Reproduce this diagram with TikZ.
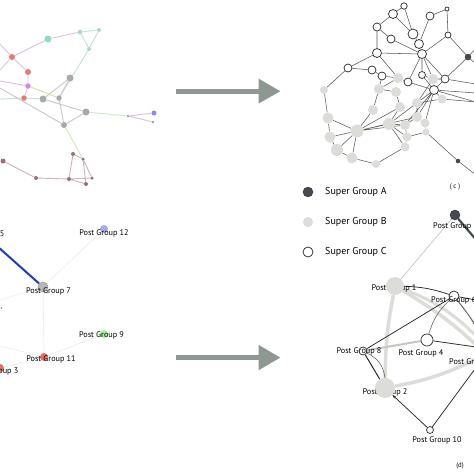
\documentclass[tikz,border=0pt]{standalone}
\usepackage{fontspec}
\setmainfont{PT Sans}
\usetikzlibrary{arrows.meta}

\definecolor{arrowgray}{HTML}{8E9893}
\definecolor{sgA}{HTML}{454A50}
\definecolor{sgB}{HTML}{DCDCD8}
\definecolor{sgC}{HTML}{333333}
\definecolor{tealA}{HTML}{8EDCC2}
\definecolor{tealB}{HTML}{A6D9CB}
\definecolor{redA}{HTML}{E37C72}
\definecolor{magA}{HTML}{D38BE0}
\definecolor{grayA}{HTML}{A9A9A9}
\definecolor{purA}{HTML}{8C8CE6}
\definecolor{purB}{HTML}{8A8AB0}
\definecolor{brnA}{HTML}{977079}
\definecolor{ePink}{HTML}{E2C3DE}
\definecolor{eTeal}{HTML}{BFE3D9}
\definecolor{eGreen}{HTML}{CDEBBE}
\definecolor{eGray}{HTML}{C9C6CC}
\definecolor{eYel}{HTML}{D6DFA2}
\definecolor{ePur}{HTML}{D9BFE6}
\definecolor{eBrn}{HTML}{CDB3BA}
\definecolor{blueB}{HTML}{1F3DB5}

\pgfdeclarelayer{back}
\pgfdeclarelayer{mid}
\pgfsetlayers{back,mid,main}

\begin{document}
\begin{tikzpicture}[x=1pt,y=-1pt,
	vtx/.style={circle,inner sep=0pt,minimum size=#1pt},
	blob/.style 2 args={vtx=#1,fill=#2},
	sga/.style={vtx=#1,fill=sgA,draw=sgA!70!black,line width=0.4pt},
	sgb/.style={vtx=#1,fill=sgB},
	sgc/.style={vtx=#1,fill=white,draw=sgC,line width=0.75pt},
	sgo/.style={vtx=#1,draw=sgC,line width=0.75pt},
	cedge/.style={draw=black!65,line width=0.55pt},
	aedge/.style={draw=#1,line width=0.9pt},
	thickb/.style={draw=sgB,line width=3.5pt},
	dk/.style={draw=black!85,line width=0.75pt},
	dkg/.style={draw=black!60,line width=0.6pt},
	faint/.style={draw=black!6,line width=0.8pt},
	lbl/.style={font=\fontsize{8.2}{9}\selectfont,inner sep=0pt},
	leg/.style={font=\fontsize{10}{11}\selectfont,inner sep=0pt,anchor=west}]
		\useasboundingbox (0,0) rectangle (474,474);
		\begin{pgfonlayer}{back}
		\fill[white] (0,0) rectangle (474,474);
		\end{pgfonlayer}
		\clip (0,0) rectangle (474,474);

		\node[blob={7}{tealA}] (a1) at (48,39) {};
		\node[blob={4.5}{tealB}] (a2) at (80,32) {};
		\node[blob={4}{tealB}] (a3) at (99,30) {};
		\node[blob={4}{tealB}] (a4) at (89,49) {};
		\node[blob={6}{redA}] (r1) at (12,57) {};
		\node[blob={6}{redA}] (r2) at (28,72) {};
		\node[blob={5.5}{magA}] (m1) at (28,86) {};
		\node[blob={5.5}{redA}] (r3) at (24,98) {};
		\node[blob={7}{grayA}] (k1) at (70,78) {};
		\node[blob={7}{grayA}] (k2) at (43,99) {};
		\node[blob={5.5}{grayA}] (k3) at (59,98) {};
		\node[blob={7}{grayA}] (k4) at (86,112) {};
		\node[blob={6}{grayA}] (k5) at (64,125) {};
		\node[blob={2.5}{purA}] (p1) at (128,116) {};
		\node[blob={5}{purA}] (p2) at (154,113) {};
		\node[blob={2.5}{purB}] (p3) at (153,122) {};
		\node[blob={5}{brnA}] (b1) at (3,161) {};
		\node[blob={4}{brnA}] (b2) at (36,178) {};
		\node[blob={4}{brnA}] (b3) at (69,179) {};
		\node[blob={4}{brnA}] (b4) at (73,154) {};
		\node[blob={3.5}{brnA}] (b5) at (83,159) {};
		\node[blob={3.5}{brnA}] (b6) at (92,178) {};
		\node[blob={4}{brnA}] (b7) at (86,184) {};
		\coordinate (aL1) at (0,44);
		\coordinate (aL2) at (0,70);
		\coordinate (aL3) at (0,81);
		\coordinate (aL4) at (0,88);
		\coordinate (aL5) at (0,99);

		\begin{pgfonlayer}{back}
		\clip (0,0) rectangle (474,474);
		\draw[aedge=ePink] (r1) -- (a1) (a1) -- (a2) (r1) -- (aL1) (r1) -- (aL2) (r1) -- (r2) (r2) -- (m1) (m1) -- (r3);
		\draw[aedge=eTeal] (a2) -- (a3) (a2) -- (a4) (a3) -- (a4) (a4) -- (k3) (aL5) -- (r3) (r3) -- (k2);
		\draw[aedge=eGray] (k1) -- (k2) (k1) -- (k3) (k2) -- (k4) (k3) -- (k5) (k5) -- (k4) (aL4) -- (k5);
		\draw[aedge=eYel] (m1) -- (k3);
		\draw[aedge=ePur] (aL3) -- (m1) (p1) -- (p2) (p1) -- (p3);
		\draw[aedge=eGreen] (k4) -- (p1) (k5) -- (b5);
		\draw[aedge=eBrn] (b1) -- (b2) (b2) -- (b3) (b3) -- (b4) (b4) -- (b5) (b5) -- (b6) (b5) -- (b7) (b3) -- (b6) (b3) -- (b7);
		\end{pgfonlayer}

		\fill[arrowgray] (176,89) rectangle (259,93.5);
		\fill[arrowgray] (258.7,78.7) -- (280.3,91.2) -- (258.7,103.5) -- cycle;
		\fill[arrowgray] (176,355.3) rectangle (259,360);
		\fill[arrowgray] (258.7,345) -- (280.3,357.6) -- (258.7,370.2) -- cycle;

		\node[sgb=8] (g1) at (324,90) {};
		\node[sgb=10] (g2) at (398,78) {};
		\node[sgb=10] (g3) at (433,79) {};
		\node[sgb=10] (g4) at (379,89) {};
		\node[sgb=10] (g5) at (396,92) {};
		\node[sgb=9] (g6) at (442,99) {};
		\node[sgb=10] (g7) at (373,110) {};
		\node[sgb=10] (g8) at (400,107) {};
		\node[sgb=10] (g9) at (417,103) {};
		\node[sgb=11] (g10) at (328,118) {};
		\node[sgb=10] (g12) at (417,117) {};
		\node[sgb=13] (g13) at (357,131) {};
		\node[sgb=12] (g14) at (389,124) {};
		\node[sgb=10] (g15) at (405,125) {};
		\node[sgb=9] (g16) at (425,123) {};
		\node[sgb=11] (g17) at (330,137) {};
		\node[sgb=9] (g18) at (407,137) {};
		\node[sgb=7] (g19) at (426,132) {};
		\node[sgb=12] (g20) at (337,150) {};
		\node[sgb=9] (g21) at (405,147) {};
		\node[sgb=11] (g22) at (352,158) {};
		\node[sgb=8] (g23) at (376,164) {};
		\node[sga=4] (d2) at (458,161) {};
		\node[sgc=6.5] (o1) at (404,6) {};
		\node[sgc=9] (o2) at (393,14) {};
		\node[sgc=8] (o3) at (377,27) {};
		\node[sgc=8] (o4) at (430,16) {};
		\node[sgc=4] (o5) at (447,9) {};
		\node[sgc=10] (o6) at (413,34) {};
		\node[sgc=8] (o7) at (391,39) {};
		\node[sgc=9] (o8) at (419,44) {};
		\node[sgc=6] (o9) at (448,35) {};
		\node[sgc=9] (o10) at (377,53) {};
		\node[sgc=9] (o11) at (422,54) {};
		\node[sga=6] (d1) at (468,57) {};
		\node[sgc=8] (o12) at (348,68) {};
		\node[sgc=8] (o13) at (372,70) {};
		\node[sgc=8] (o14) at (382,76) {};
		\node[sgc=7] (o15) at (422,75) {};
		\node[sgc=8] (o16) at (408,82) {};
		\node[sgc=8] (o17) at (445,79) {};
		\node[sgc=9] (o18) at (434,90) {};
		\coordinate (cR1) at (476,48);
		\coordinate (cR2) at (476,64);
		\coordinate (cR3) at (476,84);
		\coordinate (cR4) at (476,93);
		\coordinate (cR5) at (476,102);
		\coordinate (cR6) at (476,175);

		\begin{pgfonlayer}{back}
		\clip (0,0) rectangle (474,474);
		\draw[cedge] (o1) -- (o2) (o1) -- (o6) (o2) -- (o3) (o2) -- (o6) (o3) -- (o7) (o3) -- (o10) (o7) -- (o11) (o6) -- (o8) (o4) -- (o8) (o4) -- (o5) (o5) -- (o9) (o9) -- (d1) (o8) -- (o11) (o9) -- (o11) (o10) -- (o11) (o10) -- (o12) (o12) -- (o13) (o13) -- (o14) (o12) -- (g1) (o11) -- (o15) (o11) -- (o16) (o11) -- (g3) (o11) -- (o17) (d1) -- (o17) (d1) -- (cR1) (d1) -- (cR2) (o15) -- (o18) (o16) -- (o18) (o17) -- (o18) (o17) -- (cR3) (o18) -- (cR4) (o18) -- (cR5) (o14) -- (g2) (o10) -- (g2);
		\draw[cedge] (g1) -- (g10) (g10) -- (g17) (g17) -- (g20) (g20) -- (g22) (g22) -- (g23) (g23) -- (g21) (g21) -- (g18) (g18) -- (g19) (g19) -- (d2) (d2) -- (cR6) (g13) -- (g10) (g13) -- (g17) (g13) -- (g20) (g13) -- (g22) (g13) -- (g7) (g13) -- (g14) (g13) -- (g8) (g13) -- (g15) (g13) -- (g12) (g7) -- (g4) (g4) -- (g2) (g4) -- (o14) (g2) -- (o16) (g5) -- (g4) (g5) -- (g8) (g8) -- (g14) (g14) -- (g15) (g15) -- (g12) (g12) -- (g9) (g9) -- (o18) (g9) -- (g3) (g12) -- (g16) (g16) -- (g19) (g16) -- (o18) (g15) -- (o18) (g14) -- (o18) (g18) -- (g15) (g6) -- (g9) (g6) -- (o18) (g3) -- (o17) (g3) -- (o15) (g12) -- (o18) (g18) -- (g14) (g6) -- (cR5) (g21) -- (g14);
		\end{pgfonlayer}

		\node[lbl,font=\fontsize{6.8}{8}\selectfont] (capc) at (455,187) {( c )};
		\node[sga=10] (legA) at (308,192) {};
		\node[sgb=10] (legB) at (308,222) {};
		\node[sgc=10] (legC) at (308,252) {};
		\node[leg] (legAt) at (325,192) {Super Group A};
		\node[leg] (legBt) at (325,222) {Super Group B};
		\node[leg] (legCt) at (325,252) {Super Group C};

		\node[blob={8}{grayA}] (pg5b) at (-12,238) {};
		\node[vtx=10,fill=black!28,draw=black!42,line width=0.5pt] (pg7b) at (43,287) {};
		\node[blob={8}{purA!75}] (pg12b) at (104,229) {};
		\node[blob={8}{eGreen!80!green}] (pg9b) at (104,334) {};
		\node[blob={8}{redA!90!red}] (pg11b) at (44,357) {};
		\node[blob={8}{redA!90!red}] (pg3b) at (0,368) {};
		\coordinate (bL1) at (0,300);
		\coordinate (bL2) at (0,346);
		\begin{pgfonlayer}{back}
		\clip (0,0) rectangle (474,474);
		\draw[faint] (pg7b) -- (pg12b) (pg7b) -- (pg11b) (pg11b) -- (pg9b) (pg7b) -- (bL1) (pg11b) -- (bL2) (pg3b) -- (pg11b);
		\draw[blueB,line width=2pt] (pg5b) -- (pg7b);
		\end{pgfonlayer}
		\fill[black!45] (1.5,308) circle (0.8);
		\node[lbl,anchor=east] (pg5bt) at (4.5,234) {Post Group 5};
		\node[lbl] (pg12bt) at (104,233) {Post Group 12};
		\node[lbl] (pg7bt) at (48.5,291) {Post Group 7};
		\node[lbl] (pg9bt) at (101.5,335) {Post Group 9};
		\node[lbl] (pg11bt) at (51,359) {Post Group 11};
		\node[lbl,anchor=east] (pg3bt) at (18.5,371) {Post Group 3};

		\node[sga=10] (pg5) at (455,215) {};
		\node[sgb=18] (pg1) at (395,286) {};
		\node[sgo=10] (pg6) at (454,296) {};
		\node[sgo=12] (pg4) at (427,340) {};
		\node[sgo=8] (pg8) at (363,351) {};
		\node[sgb=20] (pg2) at (385,388) {};
		\node[sgb=16] (pg3) at (486,354) {};
		\node[sgo=7] (pg10) at (430,430) {};
		\coordinate (dR0) at (478,242);
		\coordinate (dR1) at (476,300);
		\coordinate (dR2) at (476,325);
		\coordinate (dR3) at (476,347);
		\coordinate (dR4) at (478,338);
		\begin{pgfonlayer}{back}
		\clip (0,0) rectangle (474,474);
		\draw[thickb] (pg1) to[bend right=5] (pg2);
		\draw[thickb] (pg1) to[bend left=6] (pg3);
		\draw[thickb,line width=3pt] (pg1) to[bend left=12] (dR4);
		\draw[thickb] (pg2) to[bend right=8] (pg3);
		\draw[draw=sgB!90!black,line width=2pt] (pg8) -- (pg4);
		\draw[dk] (pg4) -- (dR3);
		\draw[dk] (pg8) -- (pg6);
		\draw[dk,line width=1pt] (pg8) -- (pg2);
		\draw[dkg] (pg8) to[bend left=30] (pg2);
		\draw[dk,-{Stealth[length=4pt,width=3pt]}] (pg10) -- (pg2);
		\draw[dk] (pg10) -- (pg3);
		\draw[dk] (pg1) to[bend left=8] (pg6);
		\draw[dk] (pg6) -- (dR1);
		\draw[dkg] (pg6) to[bend right=15] (pg4);
		\draw[dkg] (pg6) to[bend left=10] (pg3);
		\draw[dkg] (pg6) -- (dR2);
		\draw[draw=black!25,line width=0.6pt] (pg5) -- (pg1);
		\draw[sgA,line width=2.2pt] (pg5) -- (dR0);
		\end{pgfonlayer}
		\begin{pgfonlayer}{mid}
		\clip (0,0) rectangle (474,474);
		\node[lbl,anchor=west] (pg5t) at (433,226) {Post Group 5};
		\node[lbl] (pg1t) at (394,288) {Post Group 1};
		\node[lbl,anchor=west] (pg6t) at (431,300) {Post Group 6};
		\node[lbl] (pg4t) at (421,353) {Post Group 4};
		\node[lbl] (pg8t) at (359,351) {Post Group 8};
		\node[lbl] (pg2t) at (385,392) {Post Group 2};
		\node[lbl,anchor=west] (pg3t) at (449,362) {Post Group 3};
		\node[lbl] (pg10t) at (437,440) {Post Group 10};
		\end{pgfonlayer}
		\node[lbl,font=\fontsize{6.8}{8}\selectfont] (capd) at (460,466) {(d)};
	\end{tikzpicture}
\end{document}
